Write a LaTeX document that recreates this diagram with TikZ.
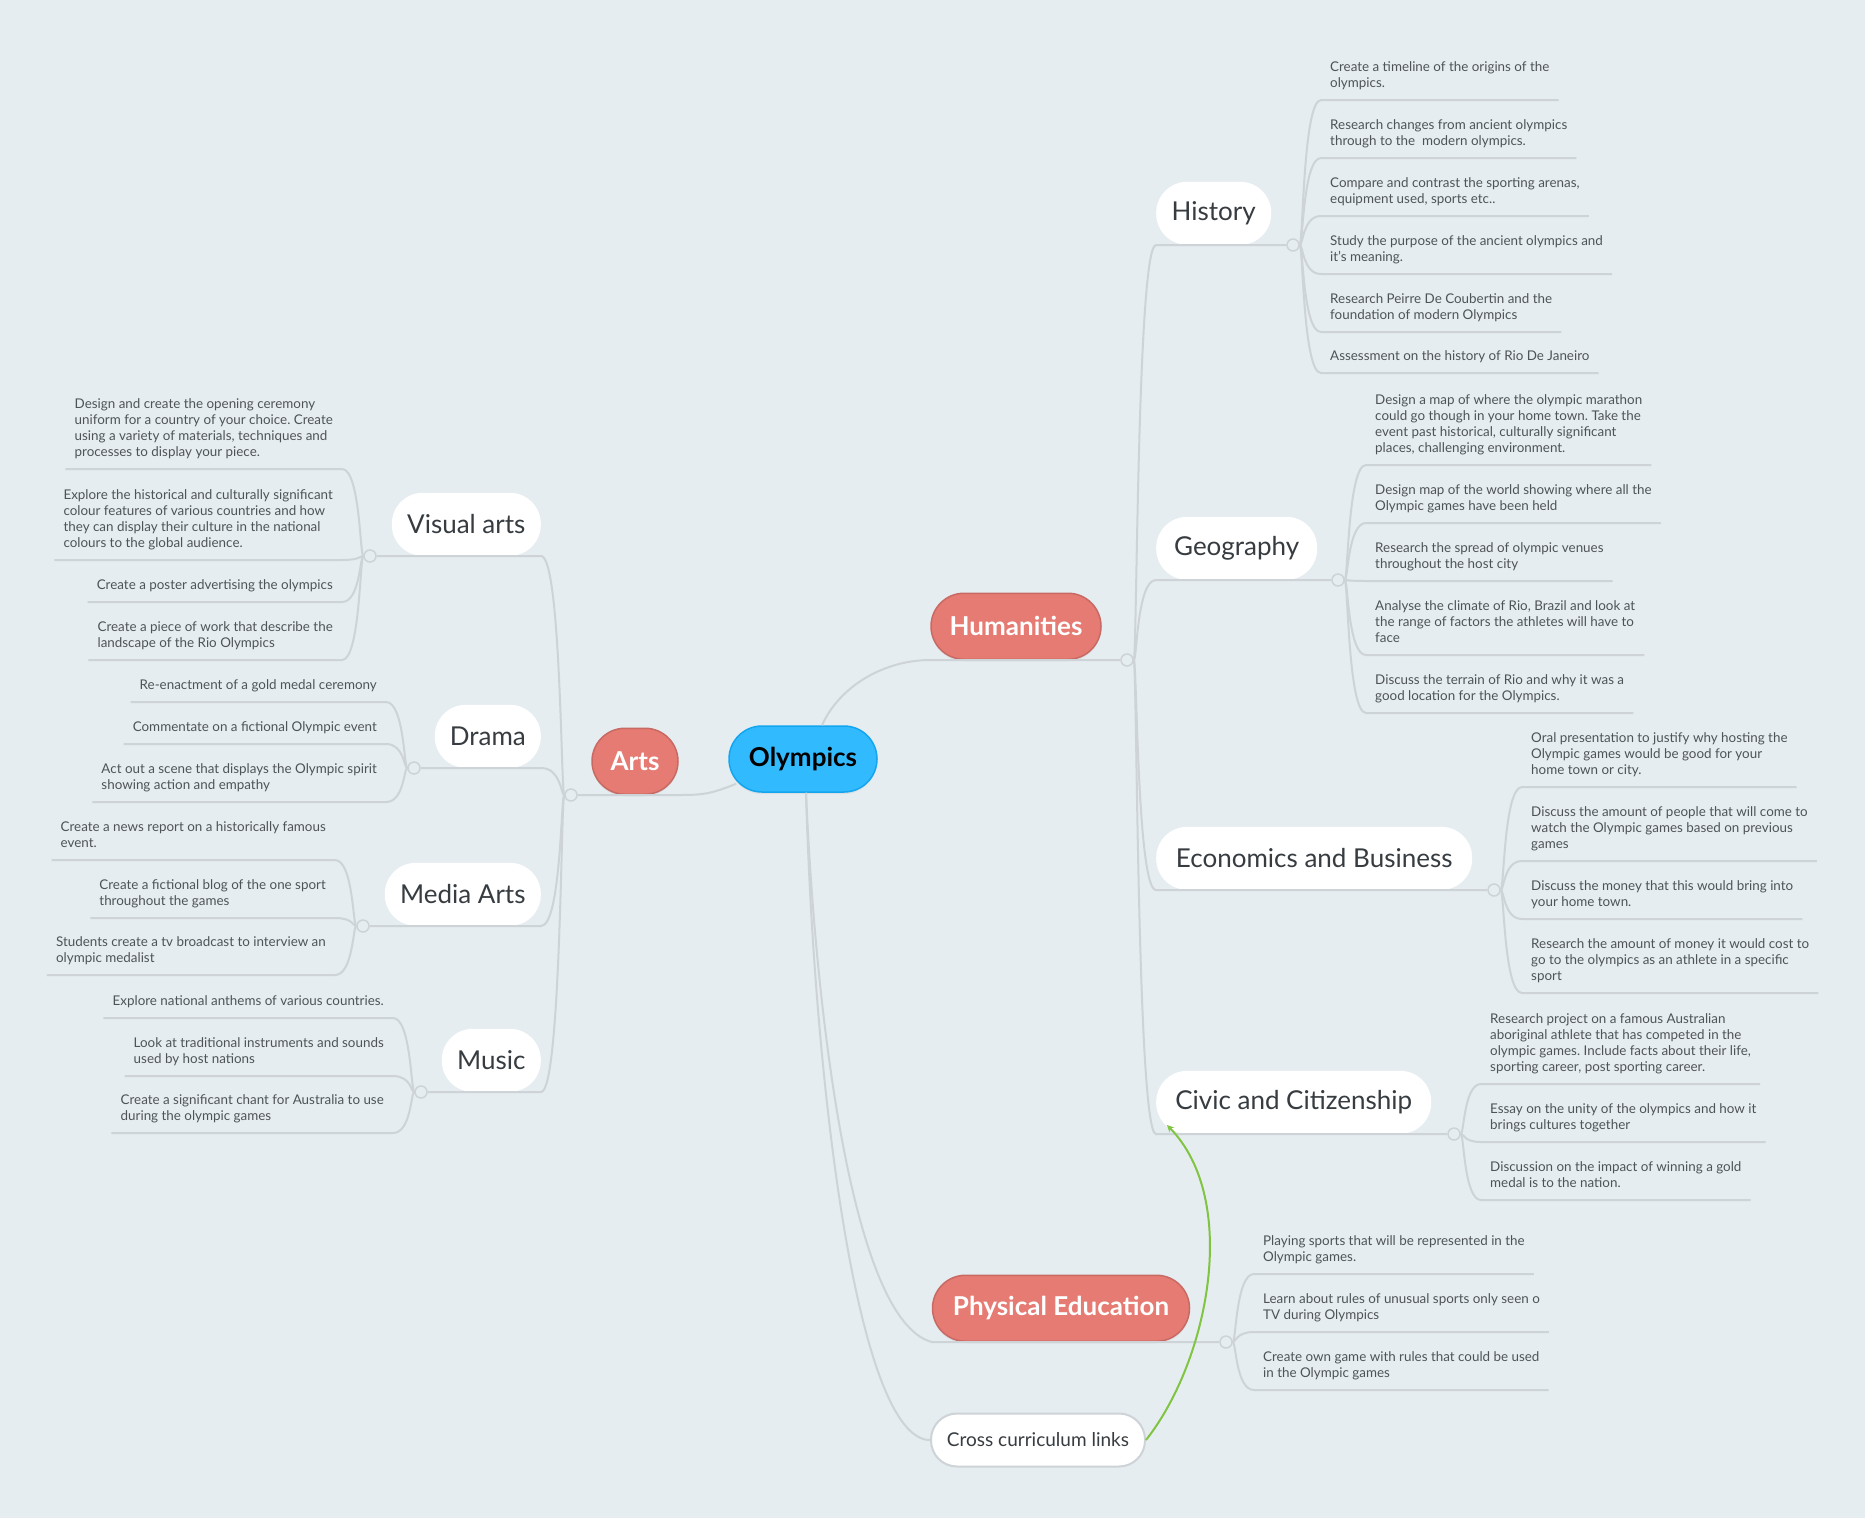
\documentclass[tikz,border=0pt]{standalone}
\usepackage{fontspec}
\setmainfont{Lato}
\usetikzlibrary{arrows,calc,shadows}
\definecolor{bgcol}{RGB}{230,237,240}
\definecolor{linegray}{RGB}{205,211,215}
\definecolor{leaftext}{RGB}{78,83,88}
\definecolor{topictext}{RGB}{55,60,65}
\definecolor{rootblue}{RGB}{50,186,255}
\definecolor{rootline}{RGB}{20,165,240}
\definecolor{mainred}{RGB}{229,123,115}
\definecolor{mainline}{RGB}{200,106,99}
\definecolor{linkgreen}{RGB}{128,196,66}
\frenchspacing

\begin{document}
\begin{tikzpicture}[
        x=1pt, y=-1pt,
        rootnode/.style={rectangle, rounded corners=33pt, draw=rootline, fill=rootblue, line width=1.5pt, minimum width=148pt, minimum height=66pt, font=\fontsize{26}{30}\selectfont\bfseries, text=black, drop shadow={opacity=0.12, shadow xshift=0pt, shadow yshift=-2pt}},
        main/.style={rectangle, rounded corners=33pt, draw=mainline, fill=mainred, line width=1.5pt, minimum height=66pt, font=\fontsize{26}{30}\selectfont\bfseries, text=white, anchor=south, drop shadow={opacity=0.12, shadow xshift=0pt, shadow yshift=-2pt}},
        topic/.style={rectangle, rounded corners=31pt, fill=white, minimum height=63pt, font=\fontsize{26}{30}\selectfont, text=topictext},
        crossbox/.style={rectangle, rounded corners=26pt, draw=linegray, fill=white, line width=2pt, minimum width=214pt, minimum height=53pt, font=\fontsize{19}{22}\selectfont, text=topictext},
        leafR/.style={anchor=south west, align=left, inner xsep=9pt, inner ysep=8pt, text depth=4pt, font=\fontsize{13.4}{16}\selectfont, text=leaftext},
        leafL/.style={leafR, anchor=south east},
        hub/.style={circle, draw=linegray, fill=bgcol, line width=1.5pt, minimum size=12pt, inner sep=0pt},
        branch/.style={draw=linegray, line width=2pt},
        toR/.style={to path={.. controls ($(\tikztostart)+(10,0)$) and ($(\tikztostart|-\tikztotarget)+(10,0)$) .. (\tikztotarget) \tikztonodes}},
        toL/.style={to path={.. controls ($(\tikztostart)+(-10,0)$) and ($(\tikztostart|-\tikztotarget)+(-10,0)$) .. (\tikztotarget) \tikztonodes}},
        crosslink/.style={->, >=stealth, draw=linkgreen, line width=2pt}
    ]
        % Background
        \fill[bgcol] (0,0) rectangle (1865,1518);
        \useasboundingbox (0,0) rectangle (1865,1518);

        % Centre and main branches
        \node[rootnode] (oly) at (803,759) {Olympics};
        \node[main, minimum width=86pt] (arts) at (635,795) {Arts};
        \node[main, minimum width=170pt] (hum) at (1016,660) {Humanities};
        \node[main, minimum width=257pt] (pe) at (1061,1342) {Physical Education};
        \node[crossbox] (cross) at (1038,1440) {Cross curriculum links};

        % Hubs
        \node[hub] (artsj) at (571,795) {};
        \node[hub] (humj) at (1127,660) {};
        \node[hub] (pej) at (1226,1342) {};

        % Topics
        \node[topic, anchor=south west, minimum width=115pt] (hist) at (1156,245) {History};
        \node[topic, anchor=south west, minimum width=161pt] (geo) at (1156,580) {Geography};
        \node[topic, anchor=south west, minimum width=316pt] (eco) at (1156,890) {Economics and Business};
        \node[topic, anchor=south west, minimum width=275pt] (civ) at (1156,1134) {Civic and Citizenship};
        \node[topic, anchor=south east, minimum width=149pt] (vis) at (541,556) {Visual arts};
        \node[topic, anchor=south east, minimum width=106pt] (drama) at (541,768) {Drama};
        \node[topic, anchor=south east, minimum width=156pt] (media) at (541,926) {Media Arts};
        \node[topic, anchor=south east, minimum width=99pt] (music) at (541,1092) {Music};

        \node[hub] (histj) at (1293,245) {};
        \node[hub] (geoj) at (1338,580) {};
        \node[hub] (ecoj) at (1494,890) {};
        \node[hub] (civj) at (1454,1134) {};
        \node[hub] (visj) at (370,556) {};
        \node[hub] (dramaj) at (414,768) {};
        \node[hub] (mediaj) at (363,926) {};
        \node[hub] (musicj) at (421,1092) {};

        % History
        \node[leafR] (h1) at (1321,100) {Create a timeline of the origins of the\\olympics.};
        \node[leafR] (h2) at (1321,158) {Research changes from ancient olympics\\through to the \ modern olympics.};
        \node[leafR] (h3) at (1321,216) {Compare and contrast the sporting arenas,\\equipment used, sports etc..};
        \node[leafR] (h4) at (1321,274) {Study the purpose of the ancient olympics and\\it's meaning.};
        \node[leafR] (h5) at (1321,332) {Research Peirre De Coubertin and the\\foundation of modern Olympics};
        \node[leafR] (h6) at (1321,373) {Assessment on the history of Rio De Janeiro};

        % Geography
        \node[leafR] (g1) at (1366,465) {Design a map of where the olympic marathon\\could go though in your home town. Take the\\event past historical, culturally significant\\places, challenging environment.};
        \node[leafR] (g2) at (1366,523) {Design map of the world showing where all the\\Olympic games have been held};
        \node[leafR] (g3) at (1366,581) {Research the spread of olympic venues\\throughout the host city};
        \node[leafR] (g4) at (1366,655) {Analyse the climate of Rio, Brazil and look at\\the range of factors the athletes will have to\\face};
        \node[leafR] (g5) at (1366,713) {Discuss the terrain of Rio and why it was a\\good location for the Olympics.};

        % Economics and Business
        \node[leafR] (e1) at (1522,787) {Oral presentation to justify why hosting the\\Olympic games would be good for your\\home town or city.};
        \node[leafR] (e2) at (1522,861) {Discuss the amount of people that will come to\\watch the Olympic games based on previous\\games};
        \node[leafR] (e3) at (1522,919) {Discuss the money that this would bring into\\your home town.};
        \node[leafR] (e4) at (1522,993) {Research the amount of money it would cost to\\go to the olympics as an athlete in a specific\\sport};

        % Civic and Citizenship
        \node[leafR] (c1) at (1481,1084) {Research project on a famous Australian\\aboriginal athlete that has competed in the\\olympic games. Include facts about their life,\\sporting career, post sporting career.};
        \node[leafR] (c2) at (1481,1142) {Essay on the unity of the olympics and how it\\brings cultures together};
        \node[leafR] (c3) at (1481,1200) {Discussion on the impact of winning a gold\\medal is to the nation.};

        % Physical Education
        \node[leafR] (p1) at (1254,1274) {Playing sports that will be represented in the\\Olympic games.};
        \node[leafR] (p2) at (1254,1332) {Learn about rules of unusual sports only seen o\\TV during Olympics};
        \node[leafR] (p3) at (1254,1390) {Create own game with rules that could be used\\in the Olympic games};

        % Visual arts
        \node[leafL] (v1) at (342,469) {Design and create the opening ceremony\\uniform for a country of your choice. Create\\using a variety of materials, techniques and\\processes to display your piece.};
        \node[leafL] (v2) at (342,560) {Explore the historical and culturally significant\\colour features of various countries and how\\they can display their culture in the national\\colours to the global audience.};
        \node[leafL] (v3) at (342,602) {Create a poster advertising the olympics};
        \node[leafL] (v4) at (342,660) {Create a piece of work that describe the\\landscape of the Rio Olympics};

        % Drama
        \node[leafL] (d1) at (386,702) {Re-enactment of a gold medal ceremony};
        \node[leafL] (d2) at (386,744) {Commentate on a fictional Olympic event};
        \node[leafL] (d3) at (386,802) {Act out a scene that displays the Olympic spirit\\showing action and empathy};

        % Media Arts
        \node[leafL] (m1) at (335,860) {Create a news report on a historically famous\\event.};
        \node[leafL] (m2) at (335,918) {Create a fictional blog of the one sport\\throughout the games};
        \node[leafL] (m3) at (335,975) {Students create a tv broadcast to interview an\\olympic medalist};

        % Music
        \node[leafL] (u1) at (393,1018) {Explore national anthems of various countries.};
        \node[leafL] (u2) at (393,1076) {Look at traditional instruments and sounds\\used by host nations};
        \node[leafL] (u3) at (393,1133) {Create a significant chant for Australia to use\\during the olympic games};

        % Connectors from the centre
        \draw[branch] ([xshift=19pt]oly.north) .. controls +(18,-40) and +(-45,0) .. (hum.south west) -- (humj);
        \draw[branch] ([shift={(8,-9)}]oly.south west) .. controls +(-25,10) and +(25,0) .. (arts.south east) -- (artsj);
        \draw[branch] ([xshift=3pt]oly.south) .. controls +(9,208) and +(-82,-22) .. (pe.south west) -- (pej);
        \draw[branch] ([xshift=3pt]oly.south) .. controls +(9,308) and +(-71,0) .. (cross.west);

        % Humanities and Arts topics
        \foreach \t in {hist,geo,eco,civ}
            \draw[branch] (humj) to[toR] (\t.south west) -- (\t j);
        \foreach \t in {vis,drama,media,music}
            \draw[branch] (artsj) to[toL] (\t.south east) -- (\t j);

        % Leaves
        \foreach \l in {h1,h2,h3,h4,h5,h6}
            \draw[branch] (histj) to[toR] (\l.south west) -- (\l.south east);
        \foreach \l in {g1,g2,g3,g4,g5}
            \draw[branch] (geoj) to[toR] (\l.south west) -- (\l.south east);
        \foreach \l in {e1,e2,e3,e4}
            \draw[branch] (ecoj) to[toR] (\l.south west) -- (\l.south east);
        \foreach \l in {c1,c2,c3}
            \draw[branch] (civj) to[toR] (\l.south west) -- (\l.south east);
        \foreach \l in {p1,p2,p3}
            \draw[branch] (pej) to[toR] (\l.south west) -- (\l.south east);
        \foreach \l in {v1,v2,v3,v4}
            \draw[branch] (visj) to[toL] (\l.south east) -- (\l.south west);
        \foreach \l in {d1,d2,d3}
            \draw[branch] (dramaj) to[toL] (\l.south east) -- (\l.south west);
        \foreach \l in {m1,m2,m3}
            \draw[branch] (mediaj) to[toL] (\l.south east) -- (\l.south west);
        \foreach \l in {u1,u2,u3}
            \draw[branch] (musicj) to[toL] (\l.south east) -- (\l.south west);

        % Cross curriculum link
        \draw[crosslink] (cross.east) .. controls +(63,-80) and +(73,75) .. ([shift={(11,-9)}]civ.south west);

    \end{tikzpicture}
\end{document}
